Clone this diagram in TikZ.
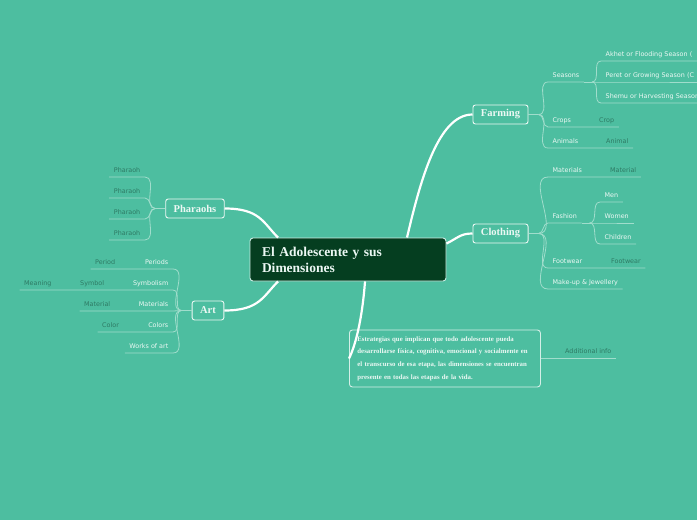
\documentclass[tikz,border=0pt]{standalone}
\usepackage{fontspec}
\setmainfont{Liberation Serif}
\newfontfamily\twigfont{DejaVu Sans}
\usepackage{tikz}
\definecolor{bg}{RGB}{77,190,160}
\definecolor{deep}{RGB}{5,62,32}
\definecolor{pale}{RGB}{236,248,244}
\definecolor{dim}{RGB}{46,122,100}
\definecolor{twigline}{RGB}{160,221,204}

\begin{document}
\begin{tikzpicture}[x=1pt,y=-1pt,
    main/.style={draw=pale,line width=0.9pt,rounded corners=2.5pt,fill=bg,text=pale,font=\bfseries\fontsize{10.5}{12}\selectfont,inner xsep=8pt,minimum height=19pt},
    sub/.style={font=\twigfont\fontsize{6.4}{7}\selectfont,text=pale,inner xsep=4.5pt,inner ysep=3pt,text height=4.8pt,text depth=1.4pt},
    leaf/.style={sub,text=dim},
    twig/.style={draw=twigline,line width=0.8pt},
    trunk/.style={draw=white,line width=2.2pt}]

    \fill[bg] (0,0) rectangle (697,520);
    \useasboundingbox (0,0) rectangle (697,520);

    \node[draw=pale!80!bg,line width=0.9pt,rounded corners=3pt,fill=deep,text=pale,font=\bfseries\fontsize{13.5}{16}\selectfont,
          text width=172pt,align=left,minimum width=196pt,minimum height=43pt,inner xsep=12pt] (ce) at (348,259.5) {El Adolescente y sus\\Dimensiones};
    \node[main] (fa) at (500.5,114.5) {Farming};
    \node[main] (cl) at (500.5,233.5) {Clothing};
    \node[main] (ph) at (195,208.5)   {Pharaohs};
    \node[main] (ar) at (208,310.5)   {Art};
    \node[draw=pale!85!bg,line width=0.9pt,rounded corners=3pt,text=pale,font=\bfseries\fontsize{6.8}{12.6}\selectfont,
          text width=175pt,align=left,minimum height=57pt,inner xsep=8pt,anchor=west] (inf) at (349,358.5)
          {Estrategias que implican que todo adolescente pueda\\desarrollarse física, cognitiva, emocional y socialmente en\\el transcurso de esa etapa, las dimensiones se encuentran\\presente en todas las etapas de la vida.};

    % farming
    \node[sub,anchor=south west] (se) at (548,82)  {Seasons};
    \node[sub,anchor=south west] (cr) at (548,127) {Crops};
    \node[sub,anchor=south west] (an) at (548,148) {Animals};
    \node[leaf,anchor=south west] (crl) at (594.5,127) {Crop};
    \node[leaf,anchor=south west] (anl) at (601.5,148) {Animal};
    \node[sub,anchor=south west,text width=130pt,align=left] (ak) at (601,61)  {Akhet or Flooding Season (};
    \node[sub,anchor=south west,text width=130pt,align=left] (pr) at (601,82)  {Peret or Growing Season (C};
    \node[sub,anchor=south west,text width=130pt,align=left] (sh) at (601,103) {Shemu or Harvesting Season};

    % clothing
    \node[sub,anchor=south west] (ma) at (548,177) {Materials};
    \node[sub,anchor=south west] (fs) at (548,223) {Fashion};
    \node[sub,anchor=south west] (fw) at (548,268) {Footwear};
    \node[sub,anchor=south west] (mk) at (548,289) {Make-up \& Jewellery};
    \node[leaf,anchor=south west] (mal) at (605.5,177) {Material};
    \node[leaf,anchor=south west] (fwl) at (606.5,268) {Footwear};
    \node[sub,anchor=south west] (mn) at (600,202) {Men};
    \node[sub,anchor=south west] (wm) at (600,223) {Women};
    \node[sub,anchor=south west] (ch) at (600,244) {Children};

    % pharaohs
    \node[leaf,anchor=south east] (p1) at (145,177) {Pharaoh};
    \node[leaf,anchor=south east] (p2) at (145,198) {Pharaoh};
    \node[leaf,anchor=south east] (p3) at (145,219) {Pharaoh};
    \node[leaf,anchor=south east] (p4) at (145,240) {Pharaoh};

    % art
    \node[sub,anchor=south east] (pd) at (173,269) {Periods};
    \node[sub,anchor=south east] (sy) at (173,290) {Symbolism};
    \node[sub,anchor=south east] (mt) at (173,311) {Materials};
    \node[sub,anchor=south east] (co) at (173,332) {Colors};
    \node[sub,anchor=south east] (wo) at (173,353) {Works of art};
    \node[leaf,anchor=south west] (pe) at (90.5,269) {Period};
    \node[leaf,anchor=south west] (sb) at (75.5,290) {Symbol};
    \node[leaf,anchor=south west] (me) at (19.5,290) {Meaning};
    \node[leaf,anchor=south west] (ml) at (79.5,311) {Material};
    \node[leaf,anchor=south west] (cc) at (97.5,332) {Color};

    \node[leaf,anchor=south west] (ai) at (560.5,358.5) {Additional info};

    % trunks
    \draw[trunk] ([xshift=59pt]ce.north) .. controls +(13,-55) and +(-35,0) .. (fa.west);
    \draw[trunk] ([yshift=-6pt]ce.north east) .. controls +(12,-6) and +(-12,0) .. (cl.west);
    \draw[trunk] (ph.east) .. controls +(35,0) and +(-15,-15) .. ([xshift=-70pt]ce.north);
    \draw[trunk] (ar.east) .. controls +(35,0) and +(-15,15) .. ([xshift=-70pt]ce.south);
    \draw[trunk] ([xshift=17pt]ce.south) .. controls +(-3,40) and +(6,-12) .. (inf.west);

    % twigs
    \coordinate (faj) at ([xshift=10pt]fa.east);
    \draw[twig] (fa.east) -- (faj);
    \foreach \n/\m in {se/se,cr/crl,an/anl}
        \draw[twig] (faj) to[out=0,in=180] (\n.south west) -- (\m.south east);
    \coordinate (sej) at ([xshift=8pt]se.south east);
    \draw[twig] (se.south east) -- (sej);
    \foreach \n in {ak,pr,sh}
        \draw[twig] (sej) to[out=0,in=180] (\n.south west) -- (\n.south east);

    \coordinate (clj) at ([xshift=10pt]cl.east);
    \draw[twig] (cl.east) -- (clj);
    \foreach \n/\m in {ma/mal,fs/fs,fw/fwl,mk/mk}
        \draw[twig] (clj) to[out=0,in=180] (\n.south west) -- (\m.south east);
    \coordinate (fsj) at ([xshift=8pt]fs.south east);
    \draw[twig] (fs.south east) -- (fsj);
    \foreach \n in {mn,wm,ch}
        \draw[twig] (fsj) to[out=0,in=180] (\n.south west) -- (\n.south east);

    \coordinate (phj) at ([xshift=-10pt]ph.west);
    \draw[twig] (ph.west) -- (phj);
    \foreach \n in {p1,p2,p3,p4}
        \draw[twig] (\n.south west) -- (\n.south east) to[out=0,in=180] (phj);

    \coordinate (arj) at ([xshift=-10pt]ar.west);
    \draw[twig] (ar.west) -- (arj);
    \foreach \n/\m in {pd/pe,sy/me,mt/ml,co/cc,wo/wo}
        \draw[twig] (\m.south west) -- (\n.south east) to[out=0,in=180] (arj);

    \draw[twig] (inf.east) -- (ai.south east);
\end{tikzpicture}
\end{document}
